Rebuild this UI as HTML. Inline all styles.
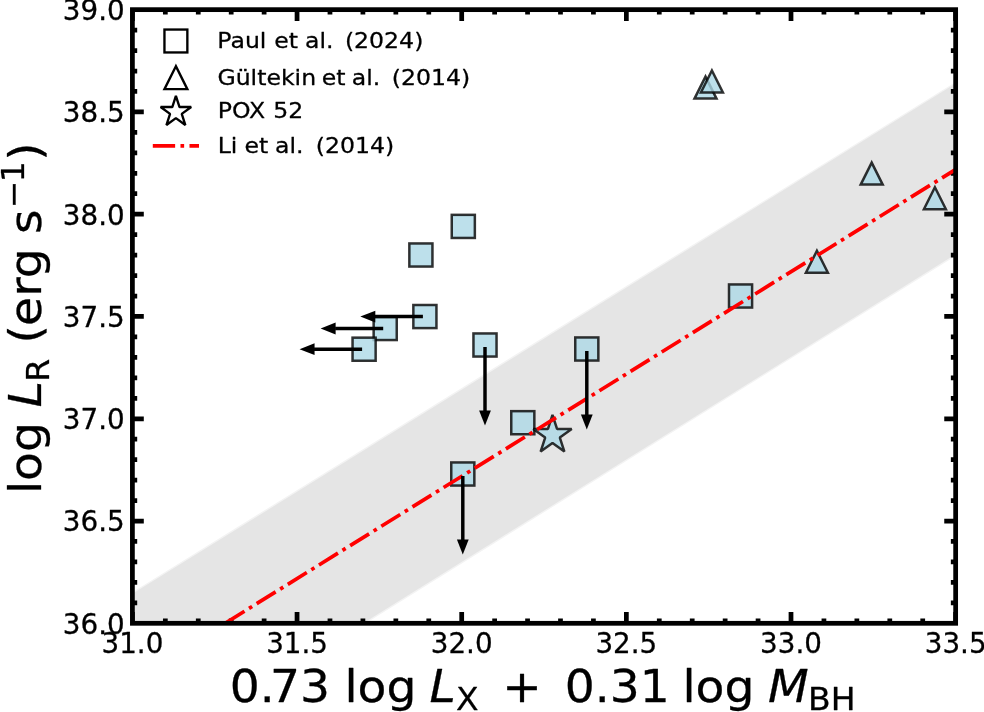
<!DOCTYPE html>
<html lang="en"><head><meta charset="utf-8"><title>Fundamental plane</title>
<style>html,body{margin:0;padding:0;background:#fff}svg{display:block}text{font-family:"DejaVu Sans","Liberation Sans",sans-serif;fill:#000;stroke:#000;stroke-width:0.3px;stroke-linejoin:round}.tk{font-size:27.78px}.lg{font-size:23.61px}.ax{font-size:47.22px}.sb{font-size:33.06px}.it{font-style:oblique}</style></head><body>
<svg width="984" height="712" viewBox="0 0 984 712">
<rect width="984" height="712" fill="#fff"/>
<defs><clipPath id="c"><rect x="132.4" y="9.65" width="823.25" height="613.65"/></clipPath></defs>
<g clip-path="url(#c)">
<polygon points="100,613.1 1000,55.19 1000,227.52 100,787.95" fill="#e5e5e5" stroke="#f3f3f3" stroke-width="1.4"/>
<g fill="rgba(173,216,230,0.8)" stroke="rgba(0,0,0,0.8)" stroke-width="2.5" stroke-linejoin="miter">
<rect x="451.75" y="214.85" width="23.1" height="23.1"/>
<rect x="409.35" y="243.45" width="23.1" height="23.1"/>
<rect x="413.35" y="305" width="23.1" height="23.1"/>
<rect x="373.65" y="316.95" width="23.1" height="23.1"/>
<rect x="352.55" y="337.65" width="23.1" height="23.1"/>
<rect x="473.45" y="333.45" width="23.1" height="23.1"/>
<rect x="575.25" y="337.45" width="23.1" height="23.1"/>
<rect x="511.25" y="411.15" width="23.1" height="23.1"/>
<rect x="451.25" y="462.45" width="23.1" height="23.1"/>
<rect x="729" y="284.45" width="23.1" height="23.1"/>
<path d="M705.5 76.6L694.5 98.6L716.5 98.6Z"/>
<path d="M711.9 70.5L700.9 92.5L722.9 92.5Z"/>
<path d="M871.7 162.6L860.7 184.6L882.7 184.6Z"/>
<path d="M934.9 187.3L923.9 209.3L945.9 209.3Z"/>
<path d="M816.9 250.8L805.9 272.8L827.9 272.8Z"/>
<polygon points="552.5,415 547.96,428.96 533.29,428.96 545.16,437.58 540.63,451.54 552.5,442.92 564.37,451.54 559.84,437.58 571.71,428.96 557.04,428.96" stroke-linejoin="bevel"/>
</g>
<path d="M132.4 623.3V611.9M132.4 9.65V21.05M165.33 623.3V618.5M165.33 9.65V14.45M198.26 623.3V618.5M198.26 9.65V14.45M231.19 623.3V618.5M231.19 9.65V14.45M264.12 623.3V618.5M264.12 9.65V14.45M297.05 623.3V611.9M297.05 9.65V21.05M329.98 623.3V618.5M329.98 9.65V14.45M362.91 623.3V618.5M362.91 9.65V14.45M395.84 623.3V618.5M395.84 9.65V14.45M428.77 623.3V618.5M428.77 9.65V14.45M461.7 623.3V611.9M461.7 9.65V21.05M494.63 623.3V618.5M494.63 9.65V14.45M527.56 623.3V618.5M527.56 9.65V14.45M560.49 623.3V618.5M560.49 9.65V14.45M593.42 623.3V618.5M593.42 9.65V14.45M626.35 623.3V611.9M626.35 9.65V21.05M659.28 623.3V618.5M659.28 9.65V14.45M692.21 623.3V618.5M692.21 9.65V14.45M725.14 623.3V618.5M725.14 9.65V14.45M758.07 623.3V618.5M758.07 9.65V14.45M791 623.3V611.9M791 9.65V21.05M823.93 623.3V618.5M823.93 9.65V14.45M856.86 623.3V618.5M856.86 9.65V14.45M889.79 623.3V618.5M889.79 9.65V14.45M922.72 623.3V618.5M922.72 9.65V14.45M955.65 623.3V611.9M955.65 9.65V21.05M132.4 9.65H143.8M955.65 9.65H944.25M132.4 30.1H137.2M955.65 30.1H950.85M132.4 50.56H137.2M955.65 50.56H950.85M132.4 71.02H137.2M955.65 71.02H950.85M132.4 91.47H137.2M955.65 91.47H950.85M132.4 111.93H143.8M955.65 111.93H944.25M132.4 132.38H137.2M955.65 132.38H950.85M132.4 152.84H137.2M955.65 152.84H950.85M132.4 173.29H137.2M955.65 173.29H950.85M132.4 193.74H137.2M955.65 193.74H950.85M132.4 214.2H143.8M955.65 214.2H944.25M132.4 234.66H137.2M955.65 234.66H950.85M132.4 255.11H137.2M955.65 255.11H950.85M132.4 275.56H137.2M955.65 275.56H950.85M132.4 296.02H137.2M955.65 296.02H950.85M132.4 316.47H143.8M955.65 316.47H944.25M132.4 336.93H137.2M955.65 336.93H950.85M132.4 357.38H137.2M955.65 357.38H950.85M132.4 377.84H137.2M955.65 377.84H950.85M132.4 398.3H137.2M955.65 398.3H950.85M132.4 418.75H143.8M955.65 418.75H944.25M132.4 439.2H137.2M955.65 439.2H950.85M132.4 459.66H137.2M955.65 459.66H950.85M132.4 480.11H137.2M955.65 480.11H950.85M132.4 500.57H137.2M955.65 500.57H950.85M132.4 521.02H143.8M955.65 521.02H944.25M132.4 541.48H137.2M955.65 541.48H950.85M132.4 561.93H137.2M955.65 561.93H950.85M132.4 582.39H137.2M955.65 582.39H950.85M132.4 602.84H137.2M955.65 602.84H950.85M132.4 623.3H143.8M955.65 623.3H944.25" stroke="#000" stroke-width="4.75" fill="none"/>
<path d="M69.2 720.16L989.2 148.56" fill="none" stroke="#f00" stroke-width="3.72" stroke-dasharray="22.34 5.34 3.66 5.34" stroke-dashoffset="-0.62"/>
<path d="M422.9 316.55L374.84 316.55" stroke="#000" stroke-width="3.47" fill="none"/>
<path d="M360.34 316.55L375.34 310.65L375.34 322.45Z" fill="#000"/>
<path d="M383.2 328.5L335.14 328.5" stroke="#000" stroke-width="3.47" fill="none"/>
<path d="M320.64 328.5L335.64 322.6L335.64 334.4Z" fill="#000"/>
<path d="M362.1 349.2L314.04 349.2" stroke="#000" stroke-width="3.47" fill="none"/>
<path d="M299.54 349.2L314.54 343.3L314.54 355.1Z" fill="#000"/>
<path d="M485 347L485 411.02" stroke="#000" stroke-width="3.47" fill="none"/>
<path d="M485 425.52L479.1 410.52L490.9 410.52Z" fill="#000"/>
<path d="M586.8 351L586.8 415.02" stroke="#000" stroke-width="3.47" fill="none"/>
<path d="M586.8 429.52L580.9 414.52L592.7 414.52Z" fill="#000"/>
<path d="M462.8 476L462.8 540.02" stroke="#000" stroke-width="3.47" fill="none"/>
<path d="M462.8 554.52L456.9 539.52L468.7 539.52Z" fill="#000"/>
</g>
<rect x="132.4" y="9.65" width="823.25" height="613.65" fill="none" stroke="#000" stroke-width="4.75" stroke-linejoin="miter"/>
<text class="tk" x="132.4" y="652.6" text-anchor="middle">31.0</text>
<text class="tk" x="297.05" y="652.6" text-anchor="middle">31.5</text>
<text class="tk" x="461.7" y="652.6" text-anchor="middle">32.0</text>
<text class="tk" x="626.35" y="652.6" text-anchor="middle">32.5</text>
<text class="tk" x="791" y="652.6" text-anchor="middle">33.0</text>
<text class="tk" x="955.65" y="652.6" text-anchor="middle">33.5</text>
<text class="tk" x="124.7" y="19.95" text-anchor="end">39.0</text>
<text class="tk" x="124.7" y="122.22" text-anchor="end">38.5</text>
<text class="tk" x="124.7" y="224.5" text-anchor="end">38.0</text>
<text class="tk" x="124.7" y="326.77" text-anchor="end">37.5</text>
<text class="tk" x="124.7" y="429.05" text-anchor="end">37.0</text>
<text class="tk" x="124.7" y="531.32" text-anchor="end">36.5</text>
<text class="tk" x="124.7" y="633.6" text-anchor="end">36.0</text>
<g fill="none" stroke="#000" stroke-width="2.35">
<rect x="164.45" y="29.55" width="22.9" height="22.9"/>
<path d="M175.9 66.25L164.45 89.15L187.35 89.15Z"/>
<polygon points="175.9,95.9 172.29,107.02 160.59,107.02 170.05,113.9 166.44,125.03 175.9,118.15 185.36,125.03 181.75,113.9 191.21,107.02 179.51,107.02" stroke-linejoin="bevel"/>
</g>
<path d="M152.8 145.8H199" stroke="#f00" stroke-width="3.72" stroke-dasharray="22.34 5.34 3.66 5.34" fill="none"/>
<text class="lg" transform="translate(0,47.8) scale(1,0.915)"><tspan x="217.3">Paul</tspan><tspan x="274.3">et</tspan><tspan x="305">al.</tspan><tspan x="344.9">(2024)</tspan></text>
<text class="lg" transform="translate(0,85.2) scale(1,0.915)"><tspan x="217.4">Gültekin</tspan><tspan x="321.7">et</tspan><tspan x="351.8">al.</tspan><tspan x="391.8">(2014)</tspan></text>
<text class="lg" transform="translate(0,118) scale(1,0.915)"><tspan x="217.7">POX</tspan><tspan x="273.3">52</tspan></text>
<text class="lg" transform="translate(0,152.8) scale(1,0.915)"><tspan x="217.7">Li</tspan><tspan x="244.6">et</tspan><tspan x="275">al.</tspan><tspan x="315.8">(2014)</tspan></text>
<text class="ax" transform="translate(0,702.4) scale(1,0.94)"><tspan x="229.8" y="0">0.</tspan><tspan x="270.1" y="0">73</tspan><tspan x="344.5" y="0">log</tspan><tspan x="429.4" y="0" class="it">L</tspan><tspan x="456" y="7.87" class="sb">X</tspan><tspan x="502.3" y="0">+</tspan><tspan x="564.8" y="0">0.31</tspan><tspan x="682.5" y="0">log</tspan><tspan x="768" y="0" class="it">M</tspan><tspan x="808" y="7.87" class="sb">BH</tspan></text>
<text class="ax" transform="translate(41.4,0) rotate(-90) scale(1,0.94)"><tspan x="-494" y="0">log</tspan><tspan x="-407.3" y="0" class="it">L</tspan><tspan x="-381.8" y="7.98" class="sb">R</tspan><tspan x="-343.4" y="0">(</tspan><tspan x="-325.9" y="0">erg</tspan><tspan x="-234" y="0">s</tspan><tspan x="-208.5" y="-18.94" class="sb">−</tspan><tspan x="-182.3" y="-18.94" class="sb">1</tspan><tspan x="-160.8" y="0">)</tspan></text>
</svg></body></html>
